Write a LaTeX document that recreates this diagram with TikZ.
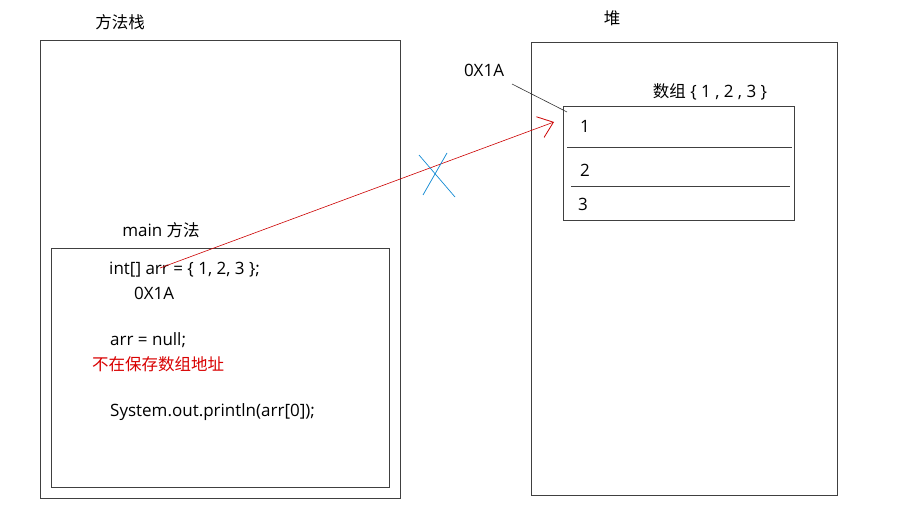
\documentclass[tikz,border=0pt]{standalone}
\usepackage{fontspec}
\setmainfont{Open Sans}
\newfontfamily\cjk{Noto Sans CJK SC}
\usetikzlibrary{arrows.meta}
\begin{document}
\begin{tikzpicture}[x=1pt,y=-1pt,
  frame/.style={draw=black!75, line width=0.8pt},
  txt/.style={inner sep=0pt, font=\fontsize{17}{19}\selectfont},
  ltxt/.style={txt, anchor=west}]
\newcommand\zh[1]{{\cjk\fontsize{16.5}{18}\selectfont #1}}
\useasboundingbox (0,0) rectangle (924,530);
\fill[white] (0,0) rectangle (924,530);
% boxes
\node[frame, minimum width=360pt, minimum height=458pt, inner sep=0pt, anchor=north west] (stack) at (40,40) {};
\node[frame, minimum width=306pt, minimum height=453pt, inner sep=0pt, anchor=north west] (heap) at (531,42) {};
\node[frame, minimum width=338pt, minimum height=239pt, inner sep=0pt, anchor=north west] (main) at (51,248) {};
\node[frame, minimum width=231pt, minimum height=114pt, inner sep=0pt, anchor=north west] (arr) at (563,106) {};
\coordinate (s1a) at (567,147); \coordinate (s1b) at (792,147);
\coordinate (s2a) at (571,186); \coordinate (s2b) at (790,186);
\draw[black!75, line width=0.8pt] (s1a) -- (s1b);
\draw[black!75, line width=0.8pt] (s2a) -- (s2b);
% labels
\node[txt] (lstack) at (120,22) {\zh{方法栈}};
\node[txt] (lheap) at (612,18) {\zh{堆}};
\node[txt] (addr) at (484,70) {0X1A};
\node[txt] (lhead) at (710,92) {\zh{数组} \{ 1 , 2 , 3 \}};
\node[ltxt] (e1) at (580,126) {1};
\node[ltxt] (e2) at (580,170) {2};
\node[ltxt] (e3) at (578,204) {3};
\node[txt] (lmain) at (161,230) {main \zh{方法}};
\node[ltxt] (c1) at (109,270) {int[] arr = \{ 1, 2, 3 \};};
\node[ltxt] (c2) at (134,293) {0X1A};
\node[ltxt] (c3) at (110,340) {arr = null;};
\node[ltxt, text=red!85!black] (c4) at (92,364) {\zh{不在保存数组地址}};
\node[ltxt] (c5) at (110,412) {System.out.println(arr[0]);};
% pointer line
\coordinate (pa) at (512,84);
\coordinate (pb) at (567,112);
\draw[black!80, line width=0.6pt] (pa) -- (pb);
% red arrow
\coordinate (ra) at (160,268);
\coordinate (rb) at (554,122);
\draw[red!80!black, line width=0.6pt, -{Straight Barb[length=14pt,width=22pt,line width=0.8pt]}] (ra) -- (rb);
% blue X
\coordinate (x1a) at (419,155); \coordinate (x1b) at (455,197);
\coordinate (x2a) at (447,153); \coordinate (x2b) at (423,195);
\draw[cyan!70!blue, line width=0.7pt] (x1a) -- (x1b);
\draw[cyan!70!blue, line width=0.7pt] (x2a) -- (x2b);
\end{tikzpicture}
\end{document}
